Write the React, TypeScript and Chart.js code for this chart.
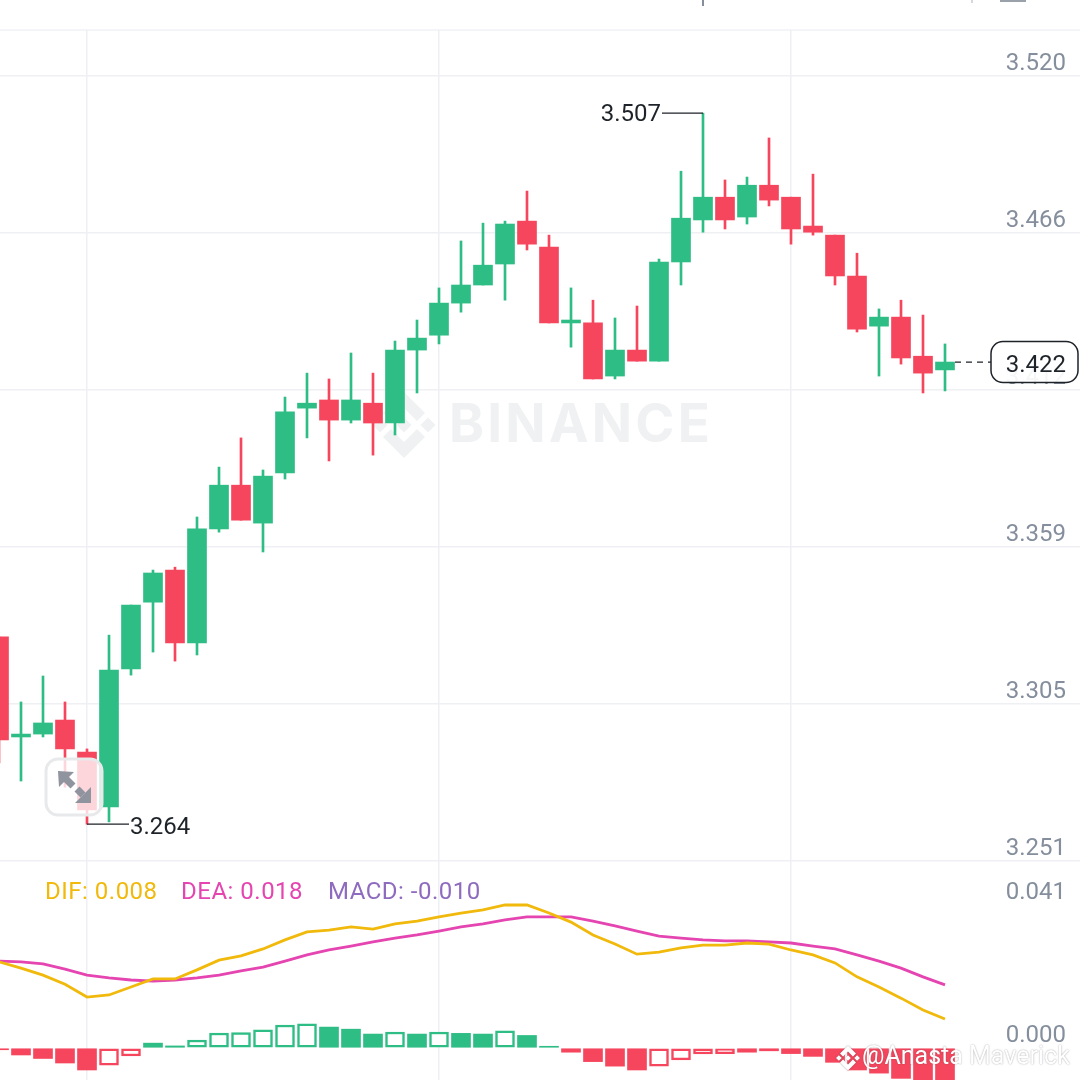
import { useEffect, useRef } from 'react';
import Chart from 'chart.js/auto';

const opens = [3.3278, 3.2935, 3.2945, 3.2993, 3.2883, 3.2695, 3.3168, 3.3397, 3.3507, 3.3257, 3.3648, 3.3798, 3.3668, 3.384, 3.4062, 3.409, 3.4021, 3.4079, 3.4011, 3.4261, 3.4312, 3.4422, 3.4484, 3.4556, 3.4703, 3.4614, 3.4354, 3.4354, 3.4172, 3.4261, 3.4223, 3.4563, 3.4707, 3.4785, 3.4717, 3.4826, 3.4785, 3.4686, 3.4655, 3.4515, 3.4343, 3.4374, 3.424, 3.4193];
const closes = [3.2925, 3.2945, 3.2983, 3.2894, 3.2685, 3.3164, 3.3387, 3.3497, 3.3257, 3.3648, 3.3798, 3.3678, 3.3829, 3.4049, 3.4079, 3.4021, 3.409, 3.4011, 3.4261, 3.4302, 3.4422, 3.4484, 3.4552, 3.4693, 3.4624, 3.4354, 3.4364, 3.4162, 3.4261, 3.4223, 3.4563, 3.4713, 3.4785, 3.4707, 3.4826, 3.4775, 3.4676, 3.4665, 3.4515, 3.4333, 3.4374, 3.4234, 3.4182, 3.422];
const highs = [3.3278, 3.3055, 3.3144, 3.3055, 3.2894, 3.3284, 3.3387, 3.3507, 3.3517, 3.3689, 3.386, 3.396, 3.385, 3.41, 3.4182, 3.4162, 3.4251, 3.4182, 3.4292, 3.4364, 3.4474, 3.4635, 3.4696, 3.4703, 3.4806, 3.4655, 3.4474, 3.4432, 3.4371, 3.4412, 3.4573, 3.4874, 3.5073, 3.4844, 3.4854, 3.4988, 3.4785, 3.4864, 3.4655, 3.4593, 3.4402, 3.4432, 3.4381, 3.4282];
const lows = [3.2846, 3.2784, 3.2935, 3.2763, 3.2636, 3.2644, 3.3147, 3.3226, 3.3195, 3.3216, 3.3637, 3.3678, 3.3569, 3.3819, 3.396, 3.3881, 3.4011, 3.3901, 3.397, 3.4114, 3.4282, 3.4391, 3.4484, 3.4432, 3.4604, 3.4354, 3.4271, 3.4162, 3.4162, 3.4223, 3.4223, 3.4484, 3.4665, 3.4676, 3.4693, 3.4755, 3.4624, 3.4655, 3.4484, 3.4323, 3.4172, 3.4213, 3.4114, 3.4121];

const dif = [0.0247, 0.0229, 0.0209, 0.0183, 0.0146, 0.0152, 0.0175, 0.0198, 0.0198, 0.0224, 0.0252, 0.0264, 0.0284, 0.031, 0.0333, 0.0338, 0.0347, 0.0341, 0.0356, 0.0364, 0.0376, 0.0387, 0.0396, 0.041, 0.041, 0.0387, 0.0361, 0.0324, 0.0298, 0.0269, 0.0275, 0.0287, 0.0295, 0.0295, 0.0301, 0.0298, 0.0281, 0.0267, 0.0244, 0.0204, 0.0175, 0.0143, 0.0109, 0.0083];
const dea = [0.0249, 0.0247, 0.0241, 0.0226, 0.0209, 0.0201, 0.0195, 0.0192, 0.0195, 0.0201, 0.0209, 0.0221, 0.0232, 0.0249, 0.0267, 0.0281, 0.0292, 0.0304, 0.0315, 0.0324, 0.0335, 0.0347, 0.0356, 0.0367, 0.0376, 0.0376, 0.0376, 0.0364, 0.035, 0.0335, 0.0321, 0.0315, 0.031, 0.0307, 0.0307, 0.0304, 0.0301, 0.0292, 0.0284, 0.0267, 0.0249, 0.0229, 0.0204, 0.0181];
const macd = [-0.0005, -0.002, -0.003, -0.0043, -0.0063, -0.0049, -0.0023, 0.0014, 0.0006, 0.0023, 0.0043, 0.0044, 0.0052, 0.0066, 0.0069, 0.006, 0.0054, 0.004, 0.0046, 0.004, 0.0046, 0.0042, 0.004, 0.0049, 0.0036, 0.0005, -0.0012, -0.0039, -0.0052, -0.0063, -0.0052, -0.0034, -0.0017, -0.0016, -0.0012, -0.0008, -0.0016, -0.0024, -0.0041, -0.0063, -0.0072, -0.0087, -0.0095, -0.01];

const priceTicks = [3.52, 3.4662, 3.4124, 3.3586, 3.3048, 3.251];
const macdTicks = [0.041, 0];
const dividers = [4, 20, 36];

const GREEN = '#2EBD85';
const RED = '#F6465D';
const GRID = '#EFF0F3';
const VGRID = '#EEEFF6';
const AXIS_TEXT = '#848E9C';
const DARK = '#1E2329';
const FONT = 'Roboto';

const isUp = (i: number) => closes[i] >= opens[i];
const candleColors = opens.map((_, i) => (isUp(i) ? GREEN : RED));
// rising histogram bars are drawn hollow, very short ones just look solid
const macdHollow = macd.map((v, i) => i > 0 && v > macd[i - 1] && Math.abs(v) >= 0.0015);

const xAxis = {
  type: 'linear',
  offset: false,
  min: 1 / 22,
  max: 1081 / 22,
  afterBuildTicks: (s: any) => {
    s.ticks = dividers.map(value => ({ value }));
  },
  ticks: { display: false },
  grid: { color: VGRID, lineWidth: 1.5, drawTicks: false, offset: false },
  border: { display: false },
};

function valueAxis(values: number[], min: number, max: number, showGrid: boolean) {
  return {
    type: 'linear',
    position: 'right',
    min,
    max,
    afterBuildTicks: (s: any) => {
      s.ticks = values.map(value => ({ value }));
    },
    // no room needed for the labels, they sit inside the plot
    afterFit: (s: any) => {
      s.width = 0;
      s.paddingTop = 0;
      s.paddingBottom = 0;
    },
    ticks: {
      mirror: true,
      padding: -14,
      labelOffset: -12,
      autoSkip: false,
      color: AXIS_TEXT,
      font: { family: FONT, size: 24 },
      callback: (v: any) => Number(v).toFixed(3),
    },
    grid: { color: GRID, lineWidth: 1.5, drawTicks: false, drawOnChartArea: showGrid },
    border: { display: false },
  };
}

function diamond(ctx: CanvasRenderingContext2D, x: number, y: number, r: number) {
  ctx.beginPath();
  ctx.moveTo(x, y - r);
  ctx.lineTo(x + r, y);
  ctx.lineTo(x, y + r);
  ctx.lineTo(x - r, y);
  ctx.closePath();
  ctx.fill();
}

function chevron(ctx: CanvasRenderingContext2D, x: number, y: number, k: number, dir: number) {
  ctx.beginPath();
  ctx.moveTo(x, y + dir * 33 * k);
  ctx.lineTo(x + 21 * k, y + dir * 12 * k);
  ctx.lineTo(x + 13 * k, y + dir * 4 * k);
  ctx.lineTo(x, y + dir * 17 * k);
  ctx.lineTo(x - 13 * k, y + dir * 4 * k);
  ctx.lineTo(x - 21 * k, y + dir * 12 * k);
  ctx.closePath();
  ctx.fill();
}

function binanceLogo(ctx: CanvasRenderingContext2D, x: number, y: number, k: number) {
  diamond(ctx, x, y, 7.5 * k);
  diamond(ctx, x - 24 * k, y, 7.5 * k);
  diamond(ctx, x + 24 * k, y, 7.5 * k);
  chevron(ctx, x, y, k, -1);
  chevron(ctx, x, y, k, 1);
}

const watermarkPlugin = {
  id: 'watermark',
  beforeDatasetsDraw(chart: any) {
    const { ctx } = chart;
    ctx.save();
    ctx.fillStyle = '#F0F1F2';
    binanceLogo(ctx, 404, 425, 1);
    ctx.font = `700 53px Inter`;
    ctx.letterSpacing = '3.2px';
    ctx.textAlign = 'left';
    ctx.textBaseline = 'alphabetic';
    ctx.fillText('BINANCE', 449, 442);
    ctx.restore();
  },
};

const pricePlugin = {
  id: 'priceMarks',
  afterDraw(chart: any) {
    const { ctx, scales } = chart;
    const px = (i: number) => scales.x.getPixelForValue(i);
    const py = (v: number) => scales.y.getPixelForValue(v);
    ctx.save();
    ctx.font = `24px ${FONT}`;
    ctx.fillStyle = DARK;
    ctx.textBaseline = 'middle';

    // highest and lowest price, each on a leader line
    const hi = highs.indexOf(Math.max(...highs));
    const lo = lows.indexOf(Math.min(...lows));
    ctx.strokeStyle = DARK;
    ctx.lineWidth = 1.3;
    ctx.beginPath();
    ctx.moveTo(px(hi), py(highs[hi]));
    ctx.lineTo(px(hi) - 41, py(highs[hi]));
    ctx.moveTo(px(lo), py(lows[lo]));
    ctx.lineTo(px(lo) + 42, py(lows[lo]));
    ctx.stroke();
    ctx.textAlign = 'right';
    ctx.fillText(highs[hi].toFixed(3), px(hi) - 42, py(highs[hi]) + 2);
    ctx.textAlign = 'left';
    ctx.fillText(lows[lo].toFixed(3), px(lo) + 43, py(lows[lo]) + 4);

    // last price tag
    const last = closes[closes.length - 1];
    const y = py(last);
    ctx.setLineDash([6, 5]);
    ctx.lineWidth = 1.3;
    ctx.beginPath();
    ctx.moveTo(px(closes.length - 1) + 10, y);
    ctx.lineTo(991, y);
    ctx.stroke();
    ctx.setLineDash([]);
    ctx.beginPath();
    ctx.roundRect(991, y - 20.5, 87, 41, 12);
    ctx.fillStyle = 'rgba(255,255,255,0.92)';
    ctx.fill();
    ctx.lineWidth = 1.5;
    ctx.stroke();
    ctx.fillStyle = DARK;
    ctx.textAlign = 'right';
    ctx.fillText(last.toFixed(3), 1066, y + 4);
    ctx.restore();
  },
};

const macdPlugin = {
  id: 'macdText',
  afterDraw(chart: any) {
    const { ctx } = chart;
    const n = macd.length - 1;
    ctx.save();
    ctx.font = `24px ${FONT}`;
    ctx.letterSpacing = '0.5px';
    ctx.textBaseline = 'middle';
    ctx.textAlign = 'left';
    ctx.fillStyle = '#F0B90B';
    ctx.fillText(`DIF: ${dif[n].toFixed(3)}`, 45, 893);
    ctx.fillStyle = '#E545B0';
    ctx.fillText(`DEA: ${dea[n].toFixed(3)}`, 181, 893);
    ctx.fillStyle = '#8E6BBF';
    ctx.fillText(`MACD: ${macd[n].toFixed(3)}`, 328, 893);

    // author watermark over the bars
    ctx.letterSpacing = '0px';
    ctx.fillStyle = '#FFFFFF';
    ctx.shadowColor = 'rgba(60,60,70,0.55)';
    ctx.shadowBlur = 1.5;
    binanceLogo(ctx, 848, 1058, 0.38);
    ctx.font = `25px ${FONT}`;
    ctx.fillText('@Anasta Maverick', 862, 1058);
    ctx.restore();
  },
};

export default function App() {
  const mainRef = useRef<HTMLCanvasElement>(null);
  const macdRef = useRef<HTMLCanvasElement>(null);

  useEffect(() => {
    if (!mainRef.current || !macdRef.current) return;

    const priceChart = new Chart(mainRef.current, {
      type: 'bar',
      data: {
        datasets: [
          {
            data: opens.map((o, i) => ({ x: i, y: [o, closes[i]] })),
            backgroundColor: candleColors,
            grouped: false,
            barThickness: 19,
            maxBarThickness: 19,
            borderWidth: 0,
          },
          {
            data: lows.map((l, i) => ({ x: i, y: [l, highs[i]] })),
            backgroundColor: candleColors,
            grouped: false,
            barThickness: 2,
            maxBarThickness: 2,
            borderWidth: 0,
          },
        ],
      } as any,
      options: {
        animation: false,
        responsive: false,
        devicePixelRatio: 1,
        layout: { padding: { top: 30, bottom: 218 } },
        plugins: { legend: { display: false }, tooltip: { enabled: false } },
        scales: {
          x: xAxis,
          y: valueAxis(priceTicks, 3.25065, 3.5358, true),
        } as any,
      },
      plugins: [watermarkPlugin, pricePlugin],
    });

    const indicatorChart = new Chart(macdRef.current, {
      type: 'bar',
      data: {
        datasets: [
          {
            type: 'line',
            data: dif.map((y, x) => ({ x, y })),
            borderColor: '#F0B90B',
            borderWidth: 2.8,
            pointRadius: 0,
            tension: 0,
          },
          {
            type: 'line',
            data: dea.map((y, x) => ({ x, y })),
            borderColor: '#E545B0',
            borderWidth: 2.8,
            pointRadius: 0,
            tension: 0,
          },
          {
            data: macd.map((y, x) => ({ x, y })),
            backgroundColor: macd.map((_, i) => (macdHollow[i] ? '#FFFFFF' : macd[i] >= 0 ? GREEN : RED)),
            borderColor: macd.map(v => (v >= 0 ? GREEN : RED)),
            borderWidth: macd.map((_, i) => (macdHollow[i] ? 2.5 : 0)),
            borderSkipped: false,
            grouped: false,
            barThickness: 19,
            maxBarThickness: 19,
          },
        ],
      } as any,
      options: {
        animation: false,
        responsive: false,
        devicePixelRatio: 1,
        layout: { padding: { top: 861 } },
        plugins: { legend: { display: false }, tooltip: { enabled: false } },
        scales: {
          x: xAxis,
          y: valueAxis(macdTicks, -0.00917, 0.05361, false),
        } as any,
      },
      plugins: [macdPlugin],
    });

    return () => {
      priceChart.destroy();
      indicatorChart.destroy();
    };
  }, []);

  const layer = { position: 'absolute', left: 0, top: 0 } as const;

  return (
    <div style={{ position: 'absolute', left: 0, top: 0, width: 1080, height: 1080, overflow: 'hidden', background: '#fff' }}>
      {/* cut-off toolbar at the very top of the screenshot */}
      <div style={{ position: 'absolute', left: 702, top: 0, width: 2, height: 6, background: '#848E9C' }} />
      <div style={{ position: 'absolute', left: 971, top: 0, width: 2, height: 3, background: '#D5D8DC' }} />
      <div style={{ position: 'absolute', left: 1000, top: 0, width: 26, height: 2, background: '#9AA1AB' }} />
      <div style={{ position: 'absolute', left: 0, top: 29, width: 1080, height: 2, background: '#F4F5F8' }} />
      <canvas ref={mainRef} width={1080} height={1080} style={layer} />
      <canvas ref={macdRef} width={1080} height={1080} style={layer} />
      {/* expand button floating over the chart */}
      <svg width={60} height={60} viewBox="0 0 60 60" style={{ position: 'absolute', left: 44, top: 757 }}>
        <rect x={2} y={2} width={56} height={56} rx={12} fill="rgba(255,255,255,0.78)" stroke="#E8E9EB" strokeWidth={3} />
        <g fill="#8F949E" stroke="#8F949E">
          <path d="M14 14 L30 15 L15 30 Z" strokeWidth={0} />
          <path d="M22 22 L29 29" strokeWidth={7} fill="none" />
          <path d="M47 46 L31 46 L47 30 Z" strokeWidth={0} />
          <path d="M39 38 L33 32" strokeWidth={7} fill="none" />
        </g>
      </svg>
    </div>
  );
}
